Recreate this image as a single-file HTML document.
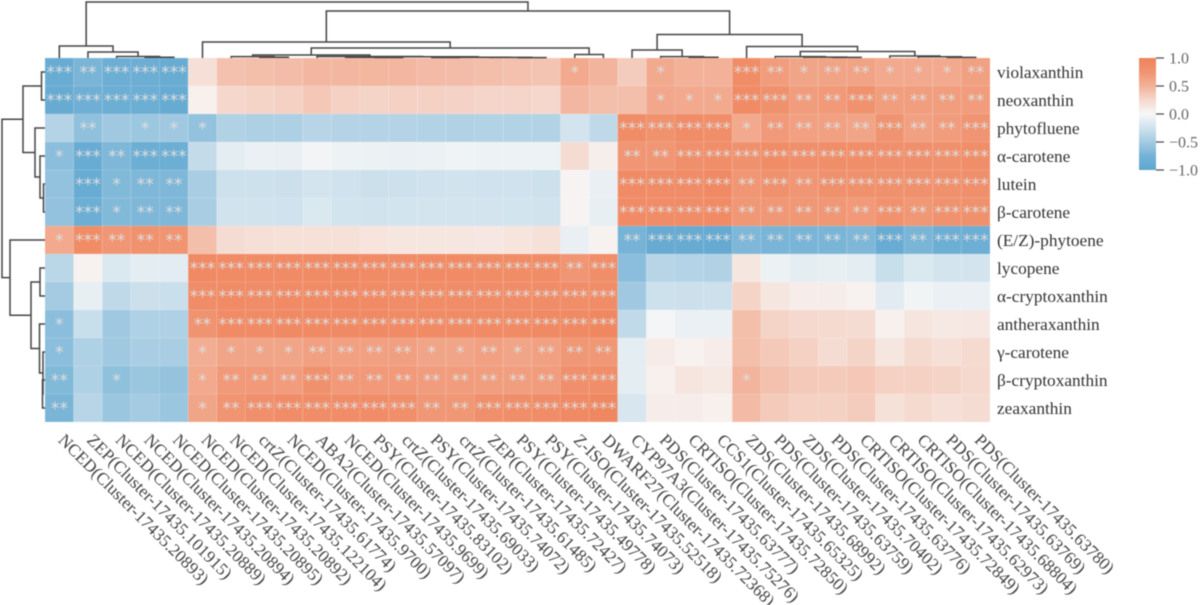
<!DOCTYPE html>
<html lang="en">
<head>
<meta charset="utf-8">
<title>Correlation clustermap of carotenoids and genes</title>
<style>
html,body{margin:0;padding:0;background:#fff;width:1200px;height:605px;overflow:hidden}
svg{display:block;filter:blur(0.45px)}
text{font-family:"Liberation Serif","DejaVu Serif",serif}
text.stars{font-family:"DejaVu Sans","Liberation Sans",sans-serif}
</style>
</head>
<body>
<svg id="chart" xmlns="http://www.w3.org/2000/svg" width="1200" height="605" viewBox="0 0 1200 605"></svg>
<script>
const rowLabels = ["violaxanthin","neoxanthin","phytofluene","α-carotene","lutein","β-carotene","(E/Z)-phytoene","lycopene","α-cryptoxanthin","antheraxanthin","γ-carotene","β-cryptoxanthin","zeaxanthin"];
const colLabels = ["NCED(Cluster-17435.20893)","ZEP(Cluster-17435.101915)","NCED(Cluster-17435.20889)","NCED(Cluster-17435.20894)","NCED(Cluster-17435.20895)","NCED(Cluster-17435.20892)","NCED(Cluster-17435.122104)","crtZ(Cluster-17435.61774)","NCED(Cluster-17435.9700)","ABA2(Cluster-17435.57097)","NCED(Cluster-17435.9699)","PSY(Cluster-17435.83102)","crtZ(Cluster-17435.69033)","PSY(Cluster-17435.74072)","crtZ(Cluster-17435.61485)","ZEP(Cluster-17435.72427)","PSY(Cluster-17435.49778)","PSY(Cluster-17435.74073)","Z-ISO(Cluster-17435.52518)","DWARF27(Cluster-17435.72368)","CYP97A3(Cluster-17435.75276)","PDS(Cluster-17435.63777)","CRTISO(Cluster-17435.72850)","CCS1(Cluster-17435.65325)","ZDS(Cluster-17435.68992)","PDS(Cluster-17435.63759)","ZDS(Cluster-17435.70402)","PDS(Cluster-17435.63776)","CRTISO(Cluster-17435.72849)","CRTISO(Cluster-17435.62973)","CRTISO(Cluster-17435.68804)","PDS(Cluster-17435.63769)","PDS(Cluster-17435.63780)"];

const corrViolaxanthin = [-82,-72,-80,-80,-82,20,40,42,43,46,46,47,46,44,43,42,40,38,55,48,33,54,50,50,86,66,58,60,60,54,55,55,62];
const corrNeoxanthin = [-84,-78,-80,-80,-84,6,26,28,30,36,30,28,30,30,29,27,27,26,46,42,42,56,55,54,88,80,66,68,78,64,64,64,66];
const corrPhytofluene = [-42,-60,-52,-54,-52,-58,-44,-46,-46,-40,-42,-42,-42,-43,-44,-43,-43,-43,-22,-35,86,78,85,84,55,68,62,62,58,76,62,66,74];
const corrAlphaCarotene = [-62,-82,-70,-80,-80,-32,-12,-8,-9,-3,-6,-7,-8,-7,-5,-6,-6,-6,22,7,72,72,82,84,80,86,82,84,84,82,82,80,84];
const corrLutein = [-58,-82,-68,-70,-70,-48,-26,-26,-27,-22,-25,-27,-26,-25,-24,-25,-25,-26,3,-9,88,87,87,90,72,80,72,80,80,80,80,80,82];
const corrBetaCarotene = [-58,-80,-68,-70,-70,-48,-24,-24,-25,-18,-23,-24,-23,-22,-22,-22,-23,-24,3,-10,88,87,87,88,70,70,70,70,68,78,70,78,80];
const corrPhytoene = [55,86,72,78,75,42,22,20,18,18,18,16,14,14,14,13,16,18,-9,4,-74,-84,-84,-86,-70,-72,-72,-72,-70,-82,-72,-80,-80];
const corrLycopene = [-38,5,-18,-12,-13,90,88,88,88,88,90,88,87,88,88,86,86,86,72,84,-62,-40,-42,-44,14,-7,-12,-10,-12,-30,-18,-22,-22];
const corrAlphaCrypto = [-50,-10,-35,-27,-28,87,88,87,88,88,90,88,87,86,87,85,85,85,84,85,-52,-26,-27,-26,28,14,8,8,5,-14,-4,-8,-8];
const corrAntheraxanthin = [-62,-30,-52,-45,-45,76,88,88,90,90,90,90,88,88,88,88,88,90,90,92,-34,-2,-8,-8,42,28,25,24,22,6,15,12,13];
const corrGammaCarotene = [-62,-45,-52,-48,-48,52,58,58,58,62,62,62,63,58,58,62,58,62,70,70,-12,10,5,8,42,35,30,22,28,14,24,20,24];
const corrBetaCrypto = [-68,-45,-60,-55,-57,55,68,68,66,80,68,68,68,66,65,64,64,66,82,84,-12,6,15,12,48,40,35,34,36,30,30,28,25];
const corrZeaxanthin = [-72,-40,-55,-50,-55,58,75,82,85,85,85,85,83,70,70,82,84,85,90,92,-20,8,8,6,44,34,30,30,33,18,24,20,22];
const corrRows = [corrViolaxanthin,corrNeoxanthin,corrPhytofluene,corrAlphaCarotene,corrLutein,corrBetaCarotene,corrPhytoene,corrLycopene,corrAlphaCrypto,corrAntheraxanthin,corrGammaCarotene,corrBetaCrypto,corrZeaxanthin];

const starRows = [
"32333 0 000000000000 10 0 100 321221112",
"33333 0 000000000000 00 0 111 332232222",
"02011 1 000000000000 00 3 333 122223223",
"13233 0 000000000000 00 2 233 333333333",
"03122 0 000000000000 00 3 333 232333333",
"03122 0 000000000000 00 3 333 222223233",
"13222 0 000000000000 00 2 333 222223233",
"00000 3 333333333333 23 0 000 000000000",
"00000 3 333333333333 33 0 000 000000000",
"10000 2 333333333333 33 0 000 000000000",
"10000 1 111222211212 22 0 000 000000000",
"20100 1 222322222222 33 0 000 100000000",
"20000 1 233333322333 33 0 000 000000000"
];

// Dendrograms: [merge height, child, child]; a leaf is a row/column index
const colTree = [56,
  [12,0,[6,1,[1.5,2,[0.7,3,4]]]],
  [47,
    [16,5,[10,
      [3,[1.4,6,[0.7,7,8]],[1.5,9,[1.2,[0.8,10,[0.5,11,12]],[0.8,[0.5,13,14],[0.6,15,[0.4,16,17]]]]]],
      [3.5,18,19]]],
    [23.5,
      [8,20,[1.4,21,[0.7,22,23]]],
      [11.5,24,[6.5,
        [1.4,25,[0.9,26,[0.6,27,28]]],
        [2,29,[1.2,30,[0.6,31,32]]]]]]
  ]];
const rowTree = [43,
  [22,[3.5,0,1],[10,2,[5,3,[1.5,4,5]]]],
  [35,6,[14,[5,7,8],[5.5,9,[2,10,[2.5,11,12]]]]]
];

const colorbarTicks = [1,0.5,0,-0.5,-1];
const colorbarLabels = ["1.0","0.5","0.0","−0.5","−1.0"];

const NS = "http://www.w3.org/2000/svg";
const svg = document.getElementById("chart");
const plot = {left:45,right:990,top:58,bottom:422};
const cellW = (plot.right-plot.left)/colLabels.length;
const cellH = (plot.bottom-plot.top)/rowLabels.length;
const xCol = i => plot.left + cellW*(i+0.5);
const yRow = i => plot.top + cellH*(i+0.5);
const yHeight = h => plot.top - h;
const xHeight = h => plot.left - h;
const cbar = {x:1139,w:17,top:58,bottom:170};
const yCbar = v => cbar.top + (1-v)/2*(cbar.bottom-cbar.top);

const stopsPos = [239,130,89], stopsMid = [247,247,247], stopsNeg = [94,166,208];
const rampPosIn = [0,.25,.4,.55,.7,.88,1], rampPosOut = [0,.26,.46,.67,.82,.92,1];
const rampNegIn = [0,.45,.6,.82,1], rampNegOut = [0,.47,.68,.93,1];
function ramp(a,inp,out){
  for(let i=1;i<inp.length;i++){
    if(a<=inp[i]){return out[i-1]+(out[i]-out[i-1])*(a-inp[i-1])/(inp[i]-inp[i-1]);}
  }
  return 1;
}
function colorFor(v){
  const t = Math.max(-1,Math.min(1,v));
  const end = t>=0 ? stopsPos : stopsNeg;
  const a = t>=0 ? ramp(t,rampPosIn,rampPosOut) : ramp(-t,rampNegIn,rampNegOut);
  const c = stopsMid.map((m,k)=>Math.round(m+(end[k]-m)*a));
  return "rgb("+c.join(",")+")";
}
function make(tag,attrs,parent){
  const el = document.createElementNS(NS,tag);
  for(const k in attrs){el.setAttribute(k,attrs[k]);}
  (parent||svg).appendChild(el);
  return el;
}

// heatmap cells and stars
const cellLayer = make("g",{});


corrRows.forEach((row,r)=>{
  const stars = starRows[r].replace(/ /g,"");
  row.forEach((val,c)=>{
    const rect = make("rect",{x:plot.left+c*cellW,y:plot.top+r*cellH,width:cellW,height:cellH,fill:colorFor(val/100),stroke:"rgba(255,255,255,0.1)","stroke-width":1},cellLayer);
    
    
  });
});
corrRows.forEach((row,r)=>{
  const stars = starRows[r].replace(/ /g,"");
  row.forEach((val,c)=>{
    const n = Number(stars[c]);
    if(n>0){
      const t = make("text",{class:"stars",x:xCol(c),y:yRow(r)+6,"text-anchor":"middle","font-size":17.2,fill:"#dedede"},cellLayer);
      t.textContent = "*".repeat(n);
      
      
    }
  });
});

// dendrograms
function drawTree(node,leafPos,heightPos,horizontal,group){
  if(typeof node==="number"){return {pos:leafPos(node),h:0};}
  const a = drawTree(node[1],leafPos,heightPos,horizontal,group);
  const b = drawTree(node[2],leafPos,heightPos,horizontal,group);
  const top = heightPos(node[0]);
  const ah = a.h===0?heightPos(0):heightPos(a.h);
  const bh = b.h===0?heightPos(0):heightPos(b.h);
  const d = horizontal
    ? "M"+ah+" "+a.pos+"H"+top+"V"+b.pos+"H"+bh
    : "M"+a.pos+" "+ah+"V"+top+"H"+b.pos+"V"+bh;
  const link = make("path",{d:d,fill:"none",stroke:"#444","stroke-width":1.5},group);
  
  
  return {pos:(a.pos+b.pos)/2,h:node[0]};
}
const topDendro = make("g",{});


drawTree(colTree,xCol,yHeight,false,topDendro);
const leftDendro = make("g",{});


drawTree(rowTree,yRow,xHeight,true,leftDendro);

// row labels
rowLabels.forEach((label,r)=>{
  const t = make("text",{x:997,y:yRow(r)+6,"font-size":17.3,fill:"#333"});
  t.textContent = label;
  
  
});

// column labels
colLabels.forEach((label,c)=>{
  const px = xCol(c)-2, py = 441;
  const t = make("text",{x:px,y:py,"font-size":17.3,fill:"#444",transform:"rotate(45 "+px+" "+py+")"});
  t.textContent = label;
  
  
});

// colorbar
const defs = make("defs",{});
const grad = make("linearGradient",{id:"cbarGradient",x1:0,y1:0,x2:0,y2:1},defs);
colorbarTicks.concat([0.75,0.25,-0.25,-0.75]).sort((a,b)=>b-a).forEach(v=>{
  make("stop",{offset:(1-v)/2,"stop-color":colorFor(v)},grad);
});
const cbarRect = make("rect",{x:cbar.x,y:cbar.top,width:cbar.w,height:cbar.bottom-cbar.top,fill:"url(#cbarGradient)"});


colorbarTicks.forEach((v,i)=>{
  const y = yCbar(v);
  const tick = make("line",{x1:cbar.x+cbar.w,x2:cbar.x+cbar.w+8,y1:y,y2:y,stroke:"#555","stroke-width":1.3});
  
  
  const t = make("text",{x:1169,y:y+5.5,"font-size":16,fill:"#666"});
  t.textContent = colorbarLabels[i];
  
  
});
</script>
</body>
</html>
